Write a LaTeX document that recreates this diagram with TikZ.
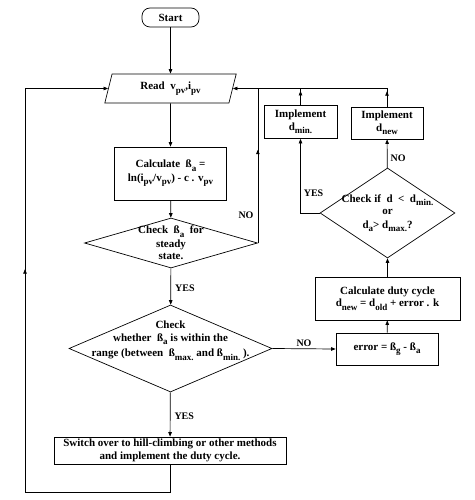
\documentclass[tikz,border=0pt]{standalone}
\usepackage{fontspec}
\setmainfont{Liberation Serif}
\usetikzlibrary{shapes.geometric,arrows.meta,decorations.markings}
\newcommand{\sbs}[1]{\raisebox{-3.5pt}{\fontsize{9}{9}\selectfont #1}}
\begin{document}
\begin{tikzpicture}[x=1pt,y=-1pt,
  every node/.style={font=\fontsize{11}{12.5}\selectfont\bfseries},
  box/.style={draw, rectangle, inner sep=0pt, align=center, line width=0.7pt},
  dia/.style={draw, diamond, inner sep=0pt, line width=0.7pt},
  lbl/.style={align=center, inner sep=0pt},
  yn/.style={font=\fontsize{10}{12}\selectfont\bfseries, inner sep=0pt},
  tip/.style={-{Triangle[length=4.5pt,width=3.5pt]}},
  conn/.style={draw, line width=0.7pt},
  midarrow/.style={postaction={decorate}, decoration={markings, mark=at position #1 with {\arrow{Triangle[length=4.5pt,width=3.5pt]}}}}
]
\useasboundingbox (0,0) rectangle (474,500);

% main column
\node[box, rounded corners=8pt, minimum width=57pt, minimum height=19pt] (start) at (170.5,17.5) {Start};
\node[draw, trapezium, trapezium left angle=74, trapezium right angle=106, trapezium stretches=true,
      minimum width=132pt, minimum height=29pt, inner sep=0pt, line width=0.7pt] (read) at (170.5,88.5)
      {Read~ v\sbs{pv},i\sbs{pv}};
\node[box, minimum width=112pt, minimum height=53pt] (calc) at (170.5,173.5)
      {Calculate~ ß\sbs{a} =\\[1pt]ln(i\sbs{pv}/v\sbs{pv}) - c . v\sbs{pv}};
\node[dia, minimum width=173pt, minimum height=50pt,
      label={[lbl]center:{Check~~ß\sbs{a}~~for\\[1pt]steady\\state.}}] (d1) at (171,243) {};
\node[dia, minimum width=203pt, minimum height=87pt,
      label={[lbl, yshift=8pt]center:{Check\\whether~ ß\sbs{a} is within the\\[3pt]range (between~ ß\sbs{max.} and ß\sbs{min.}~).}}] (d2) at (170.5,348.5) {};
\node[box, minimum width=232pt, minimum height=27pt] (sw) at (170,450.5)
      {Switch over to hill-climbing or other methods\\and implement the duty cycle.};

% right column
\node[box, minimum width=102pt, minimum height=32pt] (err) at (387,349)
      {error = ß\sbs{g} - ß\sbs{a}};
\node[box, minimum width=145pt, minimum height=43pt] (duty) at (387.5,298.5)
      {Calculate duty cycle\\d\sbs{new} = d\sbs{old} + error . k};
\node[dia, minimum width=135pt, minimum height=90pt,
      label={[lbl]center:{Check if~ d ~<~ d\sbs{min.}\\or\\[1pt]d\sbs{a}> d\sbs{max.}?}}] (d3) at (387.5,213) {};
\node[box, minimum width=73pt, minimum height=33.5pt] (dmin) at (300.5,121.75) {Implement\\d\sbs{min.}};
\node[box, minimum width=72pt, minimum height=32pt] (dnew) at (387,123) {Implement\\d\sbs{new}};

\coordinate (lb) at (25,492);

% connectors
\draw[conn, tip] (start) -- (read);
\draw[conn, tip] (read) -- (calc);
\draw[conn, tip] (calc) -- (d1);
\draw[conn, tip] (d1) -- node[yn, right=4pt, pos=0.55]{YES} (d2);
\draw[conn, tip] (d2) -- node[yn, right=4pt, pos=0.55]{YES} (sw);
\draw[conn, tip] (d2.east) -- node[yn, above=2pt]{NO} (err.west);
\draw[conn, tip] (err) -- (duty);
\draw[conn, tip] (duty) -- (d3);
\draw[conn, tip] (d3) -- node[yn, right=3pt, pos=0.35]{NO} (dnew);
\draw[conn, tip] (d3.west) -- (d3.west -| dmin) -- node[yn, right=3pt, pos=0.27]{YES} (dmin);

\draw[conn, midarrow=0.52, tip] (d1.east) -- node[yn, left=4pt, pos=0.18]{NO} (d1.east |- read) -- (read.right side);
\draw[conn] (d1.east |- read) -- (dnew.north |- read);
\draw[conn, midarrow=0.85] (dmin) -- (dmin |- read);
\draw[conn, midarrow=0.85] (dnew) -- (dnew |- read);

\draw[conn, midarrow=0.6, tip] (sw) -- (sw |- lb) -- (lb) -- (lb |- read) -- (read.left side);
\end{tikzpicture}
\end{document}
